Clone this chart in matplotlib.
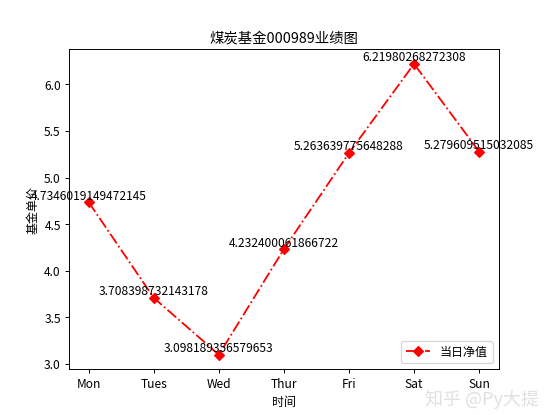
"""
煤炭基金000989 weekly chart
"""

import matplotlib
matplotlib.use('Agg')
from matplotlib import pyplot as plt

plt.rcParams['font.family'] = ['Noto Sans CJK SC', 'DejaVu Sans']
plt.rcParams['axes.unicode_minus'] = False

days = ['Mon', 'Tues', 'Wed', 'Thur', 'Fri', 'Sat', 'Sun']
values = [4.7346019149472145, 3.708398732143178, 3.098189356579653,
          4.232400061866722, 5.263639775648288, 6.21980268272308,
          5.279609515032085]


def draw():
    fig = plt.figure(figsize=(6.4, 4.8), dpi=86.5625)
    ax = fig.add_subplot(111)
    ax.plot(days, values, 'r-.', marker='D', markersize=6, label='当日净值')
    # value labels above each point
    for d, v in zip(days, values):
        ax.text(d, v, str(v), ha='center', va='bottom', fontsize=10)
    ax.set_title('煤炭基金000989业绩图')
    ax.set_xlabel('时间')
    ax.set_ylabel('基金单价')
    ax.legend(loc='lower right')
    fig.text(0.87, 0.04, '知乎 @Py大提', fontsize=15, color='#dddddd',
             ha='center', va='center', alpha=0.9)
    fig.savefig('out.png')


if __name__ == '__main__':
    draw()
